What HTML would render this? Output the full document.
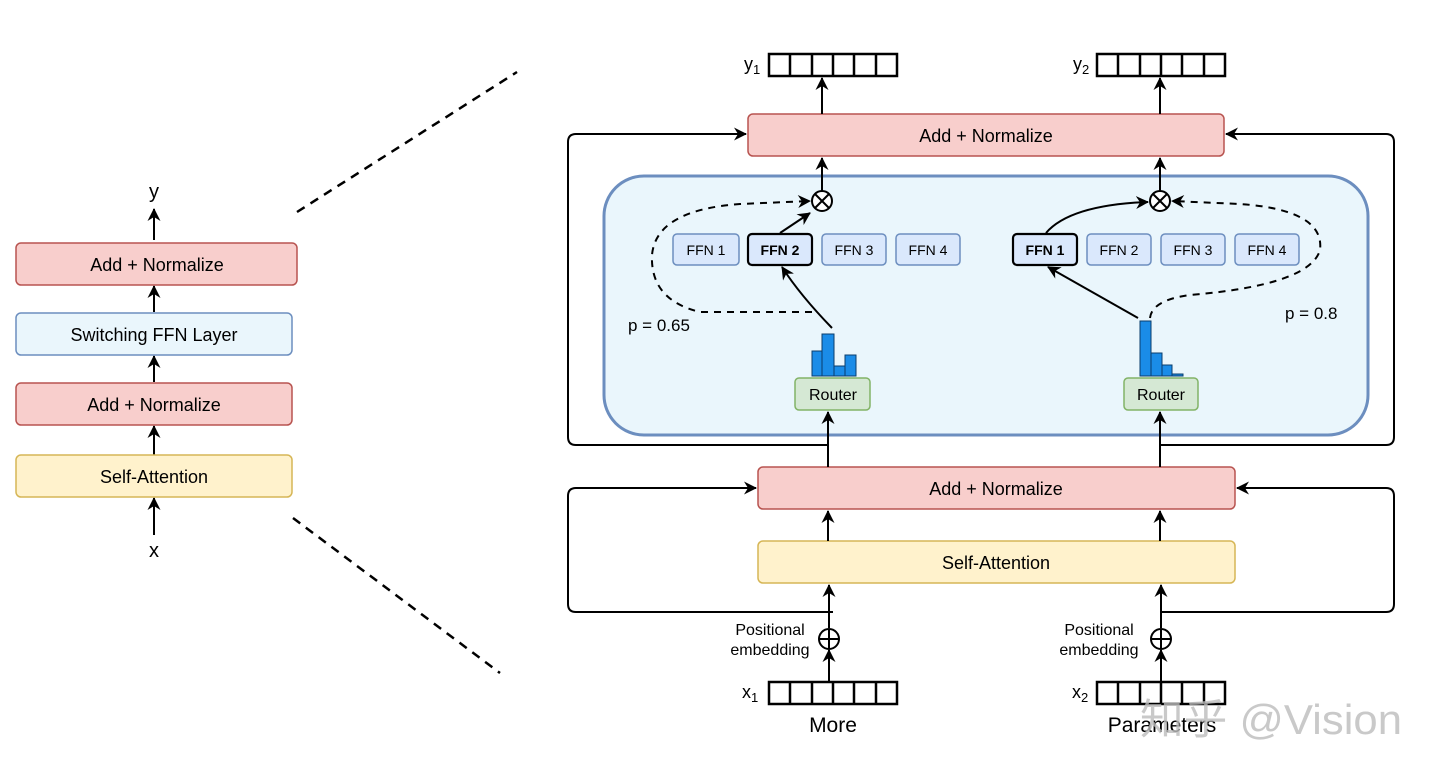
<!DOCTYPE html>
<html><head><meta charset="utf-8"><style>html,body{margin:0;padding:0;background:#fff}svg{display:block}</style></head><body>
<svg width="1440" height="777" viewBox="0 0 1440 777" xmlns="http://www.w3.org/2000/svg" font-family="Liberation Sans, sans-serif">
<defs>
<marker id="a" markerWidth="13" markerHeight="13" refX="12" refY="6.5" orient="auto" markerUnits="userSpaceOnUse"><path d="M0,0 L13,6.5 L0,13 L4,6.5 z" fill="#000"/></marker>
</defs>
<rect width="1440" height="777" fill="#fff"/>
<g stroke="#000" stroke-width="2" fill="none">
<line x1="154" y1="240" x2="154" y2="209" marker-end="url(#a)"/>
<line x1="154" y1="312" x2="154" y2="286" marker-end="url(#a)"/>
<line x1="154" y1="382" x2="154" y2="356" marker-end="url(#a)"/>
<line x1="154" y1="455" x2="154" y2="426" marker-end="url(#a)"/>
<line x1="154" y1="535" x2="154" y2="498" marker-end="url(#a)"/>
<line x1="297" y1="212" x2="517" y2="72" stroke-dasharray="9,7" stroke-width="2.5"/>
<line x1="293" y1="518" x2="500" y2="673" stroke-dasharray="9,7" stroke-width="2.5"/>
</g>
<g font-size="18" text-anchor="middle" fill="#000">
<rect x="16" y="243" width="281" height="42" rx="5" fill="#f8cecc" stroke="#b85450" stroke-width="1.5"/>
<text x="157" y="271">Add + Normalize</text>
<rect x="16" y="313" width="276" height="42" rx="5" fill="#eaf6fc" stroke="#6c8ebf" stroke-width="1.5"/>
<text x="154" y="341">Switching FFN Layer</text>
<rect x="16" y="383" width="276" height="42" rx="5" fill="#f8cecc" stroke="#b85450" stroke-width="1.5"/>
<text x="154" y="411">Add + Normalize</text>
<rect x="16" y="455" width="276" height="42" rx="5" fill="#fff2cc" stroke="#d6b656" stroke-width="1.5"/>
<text x="154" y="483">Self-Attention</text>
<text x="154" y="198" font-size="20">y</text>
<text x="154" y="557" font-size="20">x</text>
</g>

<g stroke="#000" stroke-width="2" fill="none">
<path d="M828,445 H576 Q568,445 568,437 V142 Q568,134 576,134 H746" marker-end="url(#a)"/>
<path d="M1160,445 H1386 Q1394,445 1394,437 V142 Q1394,134 1386,134 H1226" marker-end="url(#a)"/>
<path d="M833,612 H576 Q568,612 568,604 V496 Q568,488 576,488 H756" marker-end="url(#a)"/>
<path d="M1160,612 H1386 Q1394,612 1394,604 V496 Q1394,488 1386,488 H1237" marker-end="url(#a)"/>
</g>
<rect x="604" y="176" width="764" height="259" rx="40" fill="#eaf6fc" stroke="#6c8ebf" stroke-width="3"/>

<g font-size="18" text-anchor="middle" fill="#000">
<rect x="748" y="114" width="476" height="42" rx="5" fill="#f8cecc" stroke="#b85450" stroke-width="1.5"/>
<text x="986" y="142">Add + Normalize</text>
<rect x="758" y="467" width="477" height="42" rx="5" fill="#f8cecc" stroke="#b85450" stroke-width="1.5"/>
<text x="996" y="495">Add + Normalize</text>
<rect x="758" y="541" width="477" height="42" rx="5" fill="#fff2cc" stroke="#d6b656" stroke-width="1.5"/>
<text x="996" y="569">Self-Attention</text>
</g>

<g stroke="#000" stroke-width="2.5" fill="none">
<rect x="769" y="54" width="128" height="22"/><path d="M790,54V76M812,54V76M833,54V76M854,54V76M876,54V76"/>
<rect x="1097" y="54" width="128" height="22"/><path d="M1118,54V76M1140,54V76M1161,54V76M1182,54V76M1204,54V76"/>
<rect x="769" y="682" width="128" height="22"/><path d="M790,682V704M812,682V704M833,682V704M854,682V704M876,682V704"/>
<rect x="1097" y="682" width="128" height="22"/><path d="M1118,682V704M1140,682V704M1161,682V704M1182,682V704M1204,682V704"/>
</g>
<g font-size="18" fill="#000">
<text x="744" y="70">y<tspan font-size="13" dy="4">1</tspan></text>
<text x="1073" y="70">y<tspan font-size="13" dy="4">2</tspan></text>
<text x="742" y="698">x<tspan font-size="13" dy="4">1</tspan></text>
<text x="1072" y="698">x<tspan font-size="13" dy="4">2</tspan></text>
<text x="833" y="732" font-size="21" text-anchor="middle">More</text>
<text x="1162" y="732" font-size="21" text-anchor="middle">Parameters</text>
<text x="770" y="635" font-size="16" text-anchor="middle">Positional</text>
<text x="770" y="655" font-size="16" text-anchor="middle">embedding</text>
<text x="1099" y="635" font-size="16" text-anchor="middle">Positional</text>
<text x="1099" y="655" font-size="16" text-anchor="middle">embedding</text>
<text x="628" y="331" font-size="17">p = 0.65</text>
<text x="1285" y="319" font-size="17">p = 0.8</text>
</g>

<g stroke="#000" stroke-width="2" fill="none">
<line x1="822" y1="114" x2="822" y2="78" marker-end="url(#a)"/>
<line x1="1160" y1="114" x2="1160" y2="78" marker-end="url(#a)"/>
<line x1="822" y1="191" x2="822" y2="158" marker-end="url(#a)"/>
<line x1="1160" y1="191" x2="1160" y2="158" marker-end="url(#a)"/>
<line x1="828" y1="467" x2="828" y2="412" marker-end="url(#a)"/>
<line x1="1160" y1="467" x2="1160" y2="412" marker-end="url(#a)"/>
<line x1="828" y1="541" x2="828" y2="511" marker-end="url(#a)"/>
<line x1="1160" y1="541" x2="1160" y2="511" marker-end="url(#a)"/>
<line x1="829" y1="628" x2="829" y2="585" marker-end="url(#a)"/>
<line x1="1161" y1="628" x2="1161" y2="585" marker-end="url(#a)"/>
<line x1="829" y1="682" x2="829" y2="650" marker-end="url(#a)"/>
<line x1="1161" y1="682" x2="1161" y2="650" marker-end="url(#a)"/>
<circle cx="829" cy="639" r="10" fill="#fff"/><path d="M819,639H839M829,629V649"/>
<circle cx="1161" cy="639" r="10" fill="#fff"/><path d="M1151,639H1171M1161,629V649"/>
<circle cx="822" cy="201" r="10" fill="#fff"/><path d="M815,194L829,208M829,194L815,208"/>
<circle cx="1160" cy="201" r="10" fill="#fff"/><path d="M1153,194L1167,208M1167,194L1153,208"/>
<path d="M780,233 L810,213" marker-end="url(#a)"/>
<path d="M832,328 Q800,295 782,267" marker-end="url(#a)"/>
<path d="M812,312 H700 Q650,300 652,255 Q656,210 740,204 L810,201" stroke-dasharray="7,6" marker-end="url(#a)"/>
<path d="M1046,233 Q1070,205 1148,202" marker-end="url(#a)"/>
<path d="M1138,318 L1048,267" marker-end="url(#a)"/>
<path d="M1150,318 Q1152,300 1190,295 Q1310,285 1320,250 Q1325,210 1240,204 L1172,201" stroke-dasharray="7,6" marker-end="url(#a)"/>
</g>

<g font-size="14" text-anchor="middle" fill="#000">
<rect x="673" y="234" width="66" height="31" rx="4" fill="#dae8fc" stroke="#6c8ebf" stroke-width="1.5"/><text x="706" y="255">FFN 1</text>
<rect x="748" y="234" width="64" height="31" rx="4" fill="#dae8fc" stroke="#000" stroke-width="2.2"/><text x="780" y="255" font-weight="bold">FFN 2</text>
<rect x="822" y="234" width="64" height="31" rx="4" fill="#dae8fc" stroke="#6c8ebf" stroke-width="1.5"/><text x="854" y="255">FFN 3</text>
<rect x="896" y="234" width="64" height="31" rx="4" fill="#dae8fc" stroke="#6c8ebf" stroke-width="1.5"/><text x="928" y="255">FFN 4</text>
<rect x="1013" y="234" width="64" height="31" rx="4" fill="#dae8fc" stroke="#000" stroke-width="2.2"/><text x="1045" y="255" font-weight="bold">FFN 1</text>
<rect x="1087" y="234" width="64" height="31" rx="4" fill="#dae8fc" stroke="#6c8ebf" stroke-width="1.5"/><text x="1119" y="255">FFN 2</text>
<rect x="1161" y="234" width="64" height="31" rx="4" fill="#dae8fc" stroke="#6c8ebf" stroke-width="1.5"/><text x="1193" y="255">FFN 3</text>
<rect x="1235" y="234" width="64" height="31" rx="4" fill="#dae8fc" stroke="#6c8ebf" stroke-width="1.5"/><text x="1267" y="255">FFN 4</text>
<rect x="795" y="378" width="75" height="32" rx="4" fill="#d5e8d4" stroke="#82b366" stroke-width="1.5"/><text x="833" y="400" font-size="16">Router</text>
<rect x="1124" y="378" width="74" height="32" rx="4" fill="#d5e8d4" stroke="#82b366" stroke-width="1.5"/><text x="1161" y="400" font-size="16">Router</text>
</g>
<g fill="#1a8ce8" stroke="#0b3d6b" stroke-width="1">
<rect x="812" y="351" width="10" height="25"/><rect x="822" y="334" width="12" height="42"/><rect x="834" y="366" width="11" height="10"/><rect x="845" y="355" width="11" height="21"/>
<rect x="1140" y="321" width="11" height="55"/><rect x="1151" y="353" width="11" height="23"/><rect x="1162" y="365" width="10" height="11"/><rect x="1172" y="374" width="11" height="2"/>
</g>
<text x="1140" y="734" font-family="Liberation Sans, Noto Sans CJK SC, sans-serif" font-size="42" fill="#bbb" fill-opacity="0.8" textLength="262" lengthAdjust="spacingAndGlyphs">知乎 @Vision</text>
</svg>
</body></html>
